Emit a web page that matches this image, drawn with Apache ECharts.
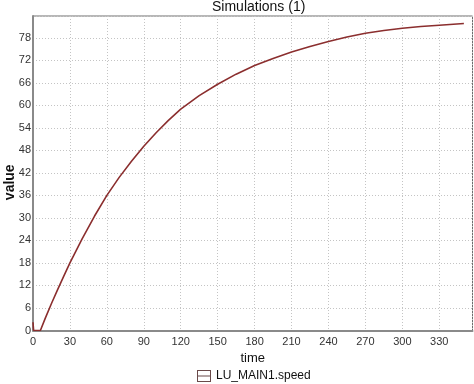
<!DOCTYPE html>
<html>
<head>
<meta charset="utf-8">
<script src="https://cdn.jsdelivr.net/npm/echarts@6/dist/echarts.min.js"></script>
<style>
html,body{margin:0;padding:0;background:#fff;}
#chart{width:474px;height:384px;}
</style>
</head>
<body>
<div id="chart"></div>
<script>
// Data
var timeValues = [0, 0.5, 6, 10, 15, 20, 25, 30, 40, 50, 60, 70, 80, 90, 100, 110, 120, 135, 150, 165, 180, 195, 210, 225, 240, 255, 270, 285, 300, 315, 330, 350];
var speedValues = [2.2, 0, 0, 3.3, 7.2, 10.9, 14.5, 18.0, 24.5, 30.5, 36.0, 40.8, 45.1, 49.1, 52.7, 56.0, 59.0, 62.6, 65.6, 68.3, 70.6, 72.5, 74.2, 75.7, 77.0, 78.2, 79.2, 79.95, 80.55, 81.0, 81.35, 81.8];
var seriesName = 'LU_MAIN1.speed';
var titleText = 'Simulations (1)';
var xAxisName = 'time';
var yAxisName = 'value';

var points = timeValues.map(function (t, i) { return [t, speedValues[i]]; });

var chart = echarts.init(document.getElementById('chart'), null, {renderer: 'canvas'});
var font = 'Liberation Sans, Arial, sans-serif';
chart.setOption({
  animation: false,
  backgroundColor: '#ffffff',
  title: {
    text: titleText,
    left: 212,
    top: 0,
    padding: 0,
    textStyle: {fontFamily: font, fontSize: 14, fontWeight: 'normal', color: '#111'}
  },
  legend: {
    left: 197,
    top: 370,
    padding: 0,
    itemWidth: 14,
    itemHeight: 12,
    itemGap: 5,
    textStyle: {fontFamily: font, fontSize: 12, color: '#111'},
    data: [{
      name: seriesName,
      icon: 'path://M0,0H14V12H0Z M1,1V11H13V1Z M1,5.5H13V6.5H1Z',
      itemStyle: {color: '#6a4a4a'}
    }]
  },
  grid: {
    left: 33,
    right: 1.5,
    top: 16,
    bottom: 53.5,
    show: true,
    borderColor: '#6e6e6e',
    borderWidth: 1,
    backgroundColor: '#ffffff',
    outerBoundsMode: 'none'
  },
  xAxis: {
    type: 'value',
    min: 0,
    max: 357,
    interval: 30,
    name: xAxisName,
    nameLocation: 'middle',
    nameGap: 21,
    nameMoveOverlap: false,
    nameTextStyle: {fontFamily: font, fontSize: 13, color: '#111'},
    axisLine: {show: true, onZero: false, lineStyle: {color: '#8a8a8a', width: 2}},
    axisTick: {show: false},
    axisLabel: {showMaxLabel: false, fontFamily: font, fontSize: 11, color: '#333', margin: 6},
    splitLine: {show: true, lineStyle: {color: '#c4c4c4', type: [1, 2], width: 1}}
  },
  yAxis: {
    type: 'value',
    min: 0,
    max: 83.8,
    interval: 6,
    name: yAxisName,
    nameLocation: 'middle',
    nameGap: 16,
    nameMoveOverlap: false,
    nameTextStyle: {fontFamily: font, fontSize: 14, fontWeight: 'bold', color: '#111', padding: [0, 18, 0, 0]},
    axisLine: {show: true, onZero: false, lineStyle: {color: '#8a8a8a', width: 2}},
    axisTick: {show: false},
    axisLabel: {showMaxLabel: false, fontFamily: font, fontSize: 11, color: '#333', margin: 2},
    splitLine: {show: true, lineStyle: {color: '#c4c4c4', type: [1, 2], width: 1}}
  },
  series: [{
    name: seriesName,
    type: 'line',
    data: points,
    showSymbol: false,
    symbol: 'none',
    smooth: false,
    lineStyle: {color: '#8b2e2e', width: 1.6},
    itemStyle: {color: '#8b2e2e'}
  }]
});
</script>
</body>
</html>
